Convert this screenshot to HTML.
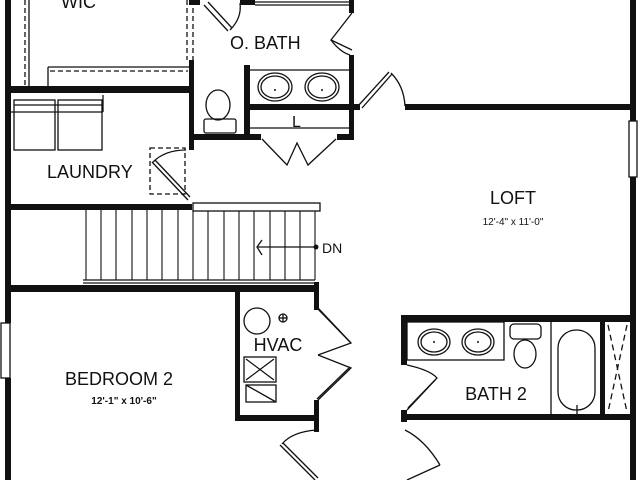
<!DOCTYPE html>
<html><head><meta charset="utf-8"><style>
html,body{margin:0;padding:0;background:#fff;}
svg{display:block;}
text{font-family:"Liberation Sans",sans-serif;fill:#111;}
</style></head><body>
<svg width="640" height="480" viewBox="0 0 640 480" xmlns="http://www.w3.org/2000/svg">
<g fill="#111" stroke="none">
<rect x="5" y="0" width="6" height="323"/>
<rect x="5" y="378" width="6" height="102"/>
<rect x="630" y="0" width="6" height="121"/>
<rect x="630" y="177" width="6" height="303"/>
<rect x="10" y="86" width="180" height="7"/>
<rect x="189" y="60" width="5" height="90"/>
<rect x="189" y="0" width="11" height="5"/>
<rect x="240" y="0" width="15" height="5"/>
<rect x="349" y="0" width="5" height="13"/>
<rect x="349" y="55" width="5" height="85"/>
<rect x="244" y="65" width="6" height="72"/>
<rect x="244" y="104" width="116" height="6"/>
<rect x="193" y="134" width="68" height="6"/>
<rect x="337" y="134" width="17" height="6"/>
<rect x="10" y="204" width="182" height="6"/>
<rect x="10" y="285" width="308" height="7"/>
<rect x="235" y="290" width="5" height="130"/>
<rect x="235" y="415" width="84" height="6"/>
<rect x="314" y="282" width="5" height="28"/>
<rect x="314" y="400" width="5" height="32"/>
<rect x="405" y="104" width="227" height="6"/>
<rect x="401" y="315" width="231" height="7"/>
<rect x="401" y="315" width="6" height="50"/>
<rect x="401" y="410" width="6" height="12"/>
<rect x="401" y="414" width="231" height="6"/>
<rect x="600" y="320" width="5" height="96"/>
</g>
<g fill="none" stroke="#111" stroke-width="1.3">
<rect x="1" y="323" width="9" height="55" fill="#fff"/>
<rect x="629" y="121" width="8" height="56" fill="#fff"/>
<line x1="255" y1="2" x2="350" y2="2"/><line x1="255" y1="5" x2="350" y2="5"/>
<line x1="25" y1="0" x2="25" y2="86" stroke-dasharray="5,3"/>
<line x1="29" y1="0" x2="29" y2="86"/>
<line x1="48" y1="67" x2="190" y2="67"/>
<line x1="48" y1="67" x2="48" y2="86"/>
<line x1="50" y1="71" x2="188" y2="71" stroke-dasharray="5,3"/>
<line x1="187" y1="0" x2="187" y2="60" stroke-dasharray="5,3"/>
<line x1="193" y1="0" x2="193" y2="60" stroke-dasharray="5,3"/>
<path d="M204 5 L228 31"/><path d="M208 2 L232 28"/>
<path d="M230 30 Q242 18 240 3"/>
<path d="M352 13 L331 40 L352 50"/>
<path d="M331 40 Q340 52 350 55"/>
<line x1="250" y1="70" x2="349" y2="70"/>
<ellipse cx="275" cy="87" rx="17" ry="14"/><ellipse cx="275" cy="87" rx="14" ry="11"/>
<ellipse cx="322" cy="87" rx="17" ry="14"/><ellipse cx="322" cy="87" rx="14" ry="11"/>
<line x1="250" y1="128" x2="349" y2="128"/>
<ellipse cx="218" cy="105" rx="12" ry="15"/>
<rect x="204" y="119" width="32" height="14" rx="2"/>
<path d="M262 139 L287 165 L297 143 L308 165 L336 139"/>
<rect x="14" y="100" width="41" height="50"/>
<rect x="58" y="100" width="44" height="50"/>
<line x1="10" y1="112" x2="103" y2="112"/>
<line x1="14" y1="105" x2="102" y2="105"/>
<line x1="103" y1="95" x2="103" y2="112"/>
<rect x="150" y="148" width="35" height="46" stroke-dasharray="5,3"/>
<path d="M152 162 L188 200"/><path d="M155 160 L190 197"/>
<path d="M153 162 Q165 150 186 150"/>
<rect x="193" y="203" width="127" height="8"/>
<line x1="83" y1="280" x2="315" y2="280"/><line x1="83" y1="283" x2="315" y2="283"/>
<g stroke-width="1.1">
<line x1="86" y1="210" x2="86" y2="280"/><line x1="101" y1="210" x2="101" y2="280"/><line x1="116" y1="210" x2="116" y2="280"/><line x1="132" y1="210" x2="132" y2="280"/><line x1="147" y1="210" x2="147" y2="280"/><line x1="162" y1="210" x2="162" y2="280"/><line x1="178" y1="210" x2="178" y2="280"/><line x1="193" y1="210" x2="193" y2="280"/><line x1="208" y1="211" x2="208" y2="280"/><line x1="224" y1="211" x2="224" y2="280"/><line x1="239" y1="211" x2="239" y2="280"/><line x1="254" y1="211" x2="254" y2="280"/><line x1="270" y1="211" x2="270" y2="280"/><line x1="285" y1="211" x2="285" y2="280"/><line x1="300" y1="211" x2="300" y2="280"/><line x1="315" y1="211" x2="315" y2="280"/>
</g>
<line x1="258" y1="247" x2="316" y2="247"/>
<path d="M262 240 L257 247 L262 255"/>
<path d="M358 106 L389 72"/><path d="M362 108 L392 74"/>
<path d="M391 73 Q404 86 405 106"/>
<circle cx="257" cy="321" r="13"/>
<circle cx="283" cy="318" r="4"/><line x1="279" y1="318" x2="287" y2="318"/><line x1="283" y1="314" x2="283" y2="322"/>
<rect x="244" y="357" width="32" height="25"/>
<path d="M246 359 L274 380 M274 359 L246 380"/>
<rect x="246" y="385" width="30" height="17"/><path d="M246 385 L276 402"/>
<path d="M318 308 L351 343 L318 355"/>
<path d="M318 355 L351 368 L318 400"/>
<path d="M317 308 L350 342"/><path d="M317 399 L350 367"/>
<path d="M280 445 L315 480"/><path d="M283 443 L318 478"/>
<path d="M282 444 Q292 432 316 430"/>
<path d="M405 430 Q425 440 440 465"/>
<path d="M440 465 L407 480"/>
<path d="M407 365 Q430 370 437 378 L407 410"/>
<path d="M435 380 L408 408"/>
<rect x="407" y="322" width="97" height="38"/>
<ellipse cx="434" cy="342" rx="16" ry="13"/><ellipse cx="434" cy="342" rx="13" ry="10"/>
<ellipse cx="478" cy="342" rx="16" ry="13"/><ellipse cx="478" cy="342" rx="13" ry="10"/>
<rect x="510" y="324" width="31" height="15" rx="4"/>
<ellipse cx="525" cy="354" rx="11" ry="14"/>
<line x1="551" y1="322" x2="551" y2="414"/>
<rect x="558" y="330" width="37" height="80" rx="18"/>
<line x1="577" y1="405" x2="577" y2="414"/>
<path d="M608 325 L627 412 M627 325 L608 412" stroke-dasharray="6,4"/>
</g>
<g fill="#111">
<circle cx="316" cy="247" r="2.5"/>
<circle cx="275" cy="90" r="1"/><circle cx="322" cy="90" r="1"/>
<circle cx="434" cy="342" r="1"/><circle cx="478" cy="342" r="1"/>
</g>
<text x="61" y="8" font-size="18">WIC</text>
<text x="230" y="49" font-size="18">O. BATH</text>
<text x="292" y="127" font-size="16">L</text>
<text x="47" y="178" font-size="18">LAUNDRY</text>
<text x="322" y="253" font-size="14">DN</text>
<text x="513" y="204" font-size="18" text-anchor="middle">LOFT</text>
<text x="513" y="225" font-size="10" text-anchor="middle">12'-4" x 11'-0"</text>
<text x="278" y="351" font-size="18" text-anchor="middle">HVAC</text>
<text x="119" y="385" font-size="18" text-anchor="middle">BEDROOM 2</text>
<text x="124" y="404" font-size="10" font-weight="bold" text-anchor="middle">12'-1" x 10'-6"</text>
<text x="496" y="400" font-size="18" text-anchor="middle">BATH 2</text>
</svg>
</body></html>
